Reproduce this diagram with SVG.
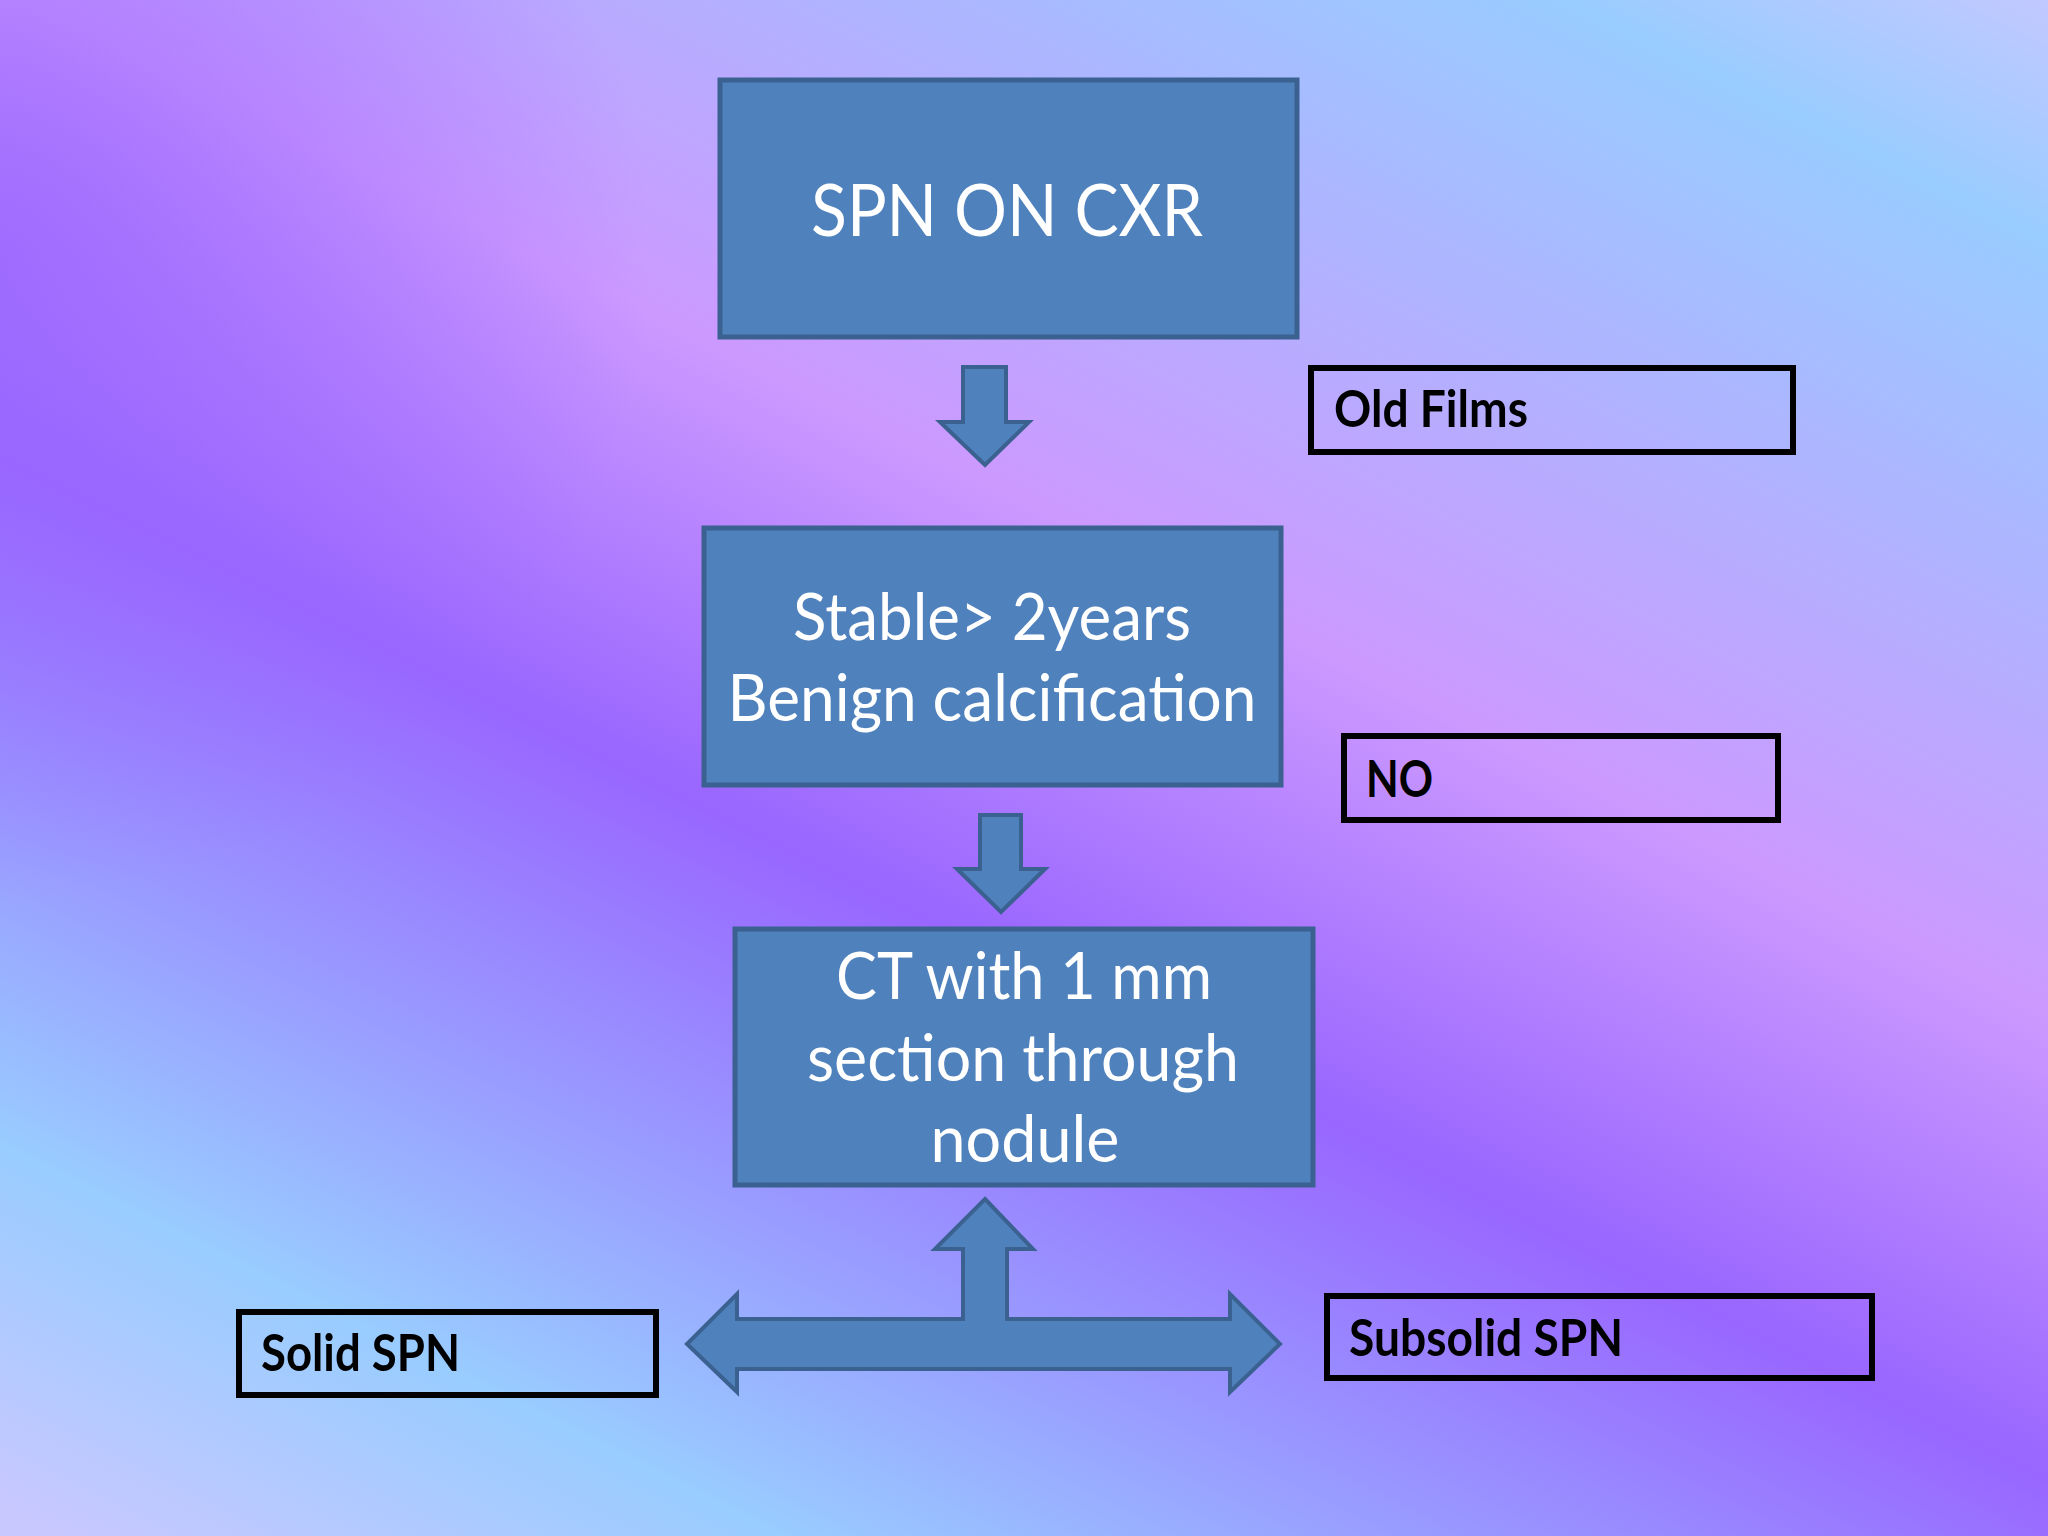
<svg xmlns="http://www.w3.org/2000/svg" width="2048" height="1536" viewBox="0 0 2048 1536">
<defs>
<linearGradient id="bg" gradientUnits="userSpaceOnUse" x1="-447" y1="1282" x2="581" y2="-774">
<stop offset="0" stop-color="#c8c8ff"/>
<stop offset="0.14" stop-color="#99ccff"/>
<stop offset="0.27" stop-color="#9999ff"/>
<stop offset="0.41" stop-color="#9966ff"/>
<stop offset="0.59" stop-color="#cc99ff"/>
<stop offset="0.78" stop-color="#aab8ff"/>
<stop offset="0.89" stop-color="#99ccff"/>
<stop offset="1" stop-color="#c8c8ff"/>
</linearGradient>
<radialGradient id="tl" gradientUnits="userSpaceOnUse" cx="0" cy="250" r="650">
<stop offset="0" stop-color="#9966ff" stop-opacity="0.75"/>
<stop offset="1" stop-color="#9966ff" stop-opacity="0"/>
</radialGradient>
<style>
.box{fill:#4f81bd;stroke:#3a6190;stroke-width:5}
.arr{fill:#4f81bd;stroke:#3a6190;stroke-width:4;stroke-linejoin:miter}
.lab{fill:none;stroke:#000;stroke-width:6}
.wt{font-family:Lato,"Open Sans","Liberation Sans",sans-serif;fill:#fff;text-anchor:middle}
.bt{font-family:Lato,"Open Sans","Liberation Sans",sans-serif;font-weight:bold;fill:#000}
</style>
</defs>
<rect width="2048" height="1536" fill="url(#bg)"/>
<rect width="2048" height="1536" fill="url(#tl)"/>

<g id="connectors">
<polygon class="arr" points="963,367 1006,367 1006,422 1029,422 985,465 940,422 963,422"/>
<polygon class="arr" points="980,815 1021,815 1021,869 1045,869 1001,912 957,869 980,869"/>
<polygon class="arr" points="985,1199 1033,1249 1007,1249 1007,1319 1230,1319 1230,1294 1280,1344 1230,1392 1230,1369 737,1369 737,1392 687,1344 737,1294 737,1319 963,1319 963,1249 935,1249"/>
</g>

<g id="node-spn">
<rect class="box" x="720" y="80" width="577" height="257"/>
<text class="wt" x="1007" y="236" font-size="72" textLength="392" lengthAdjust="spacingAndGlyphs">SPN ON CXR</text>
</g>

<g id="node-oldfilms">
<rect class="lab" x="1311" y="368" width="482" height="84"/>
<text class="bt" x="1334" y="427" font-size="52" textLength="194" lengthAdjust="spacingAndGlyphs">Old Films</text>
</g>

<g id="node-stable">
<rect class="box" x="704" y="528" width="577" height="257"/>
<text class="wt" x="992" y="640" font-size="65" textLength="398" lengthAdjust="spacingAndGlyphs">Stable&gt; 2years</text>
<text class="wt" x="992" y="721" font-size="65" textLength="529" lengthAdjust="spacingAndGlyphs">Benign calcification</text>
</g>

<g id="node-no">
<rect class="lab" x="1344" y="736" width="434" height="84"/>
<text class="bt" x="1366" y="797" font-size="52" textLength="67" lengthAdjust="spacingAndGlyphs">NO</text>
</g>

<g id="node-ct">
<rect class="box" x="735" y="929" width="578" height="256"/>
<text class="wt" x="1024" y="999" font-size="65" textLength="376" lengthAdjust="spacingAndGlyphs">CT with 1 mm</text>
<text class="wt" x="1023" y="1081" font-size="65" textLength="432" lengthAdjust="spacingAndGlyphs">section through</text>
<text class="wt" x="1025" y="1162" font-size="65" textLength="189" lengthAdjust="spacingAndGlyphs">nodule</text>
</g>

<g id="node-solid">
<rect class="lab" x="239" y="1312" width="417" height="83"/>
<text class="bt" x="261" y="1371" font-size="52" textLength="199" lengthAdjust="spacingAndGlyphs">Solid SPN</text>
</g>

<g id="node-subsolid">
<rect class="lab" x="1327" y="1296" width="545" height="82"/>
<text class="bt" x="1349" y="1356" font-size="52" textLength="274" lengthAdjust="spacingAndGlyphs">Subsolid SPN</text>
</g>
</svg>
